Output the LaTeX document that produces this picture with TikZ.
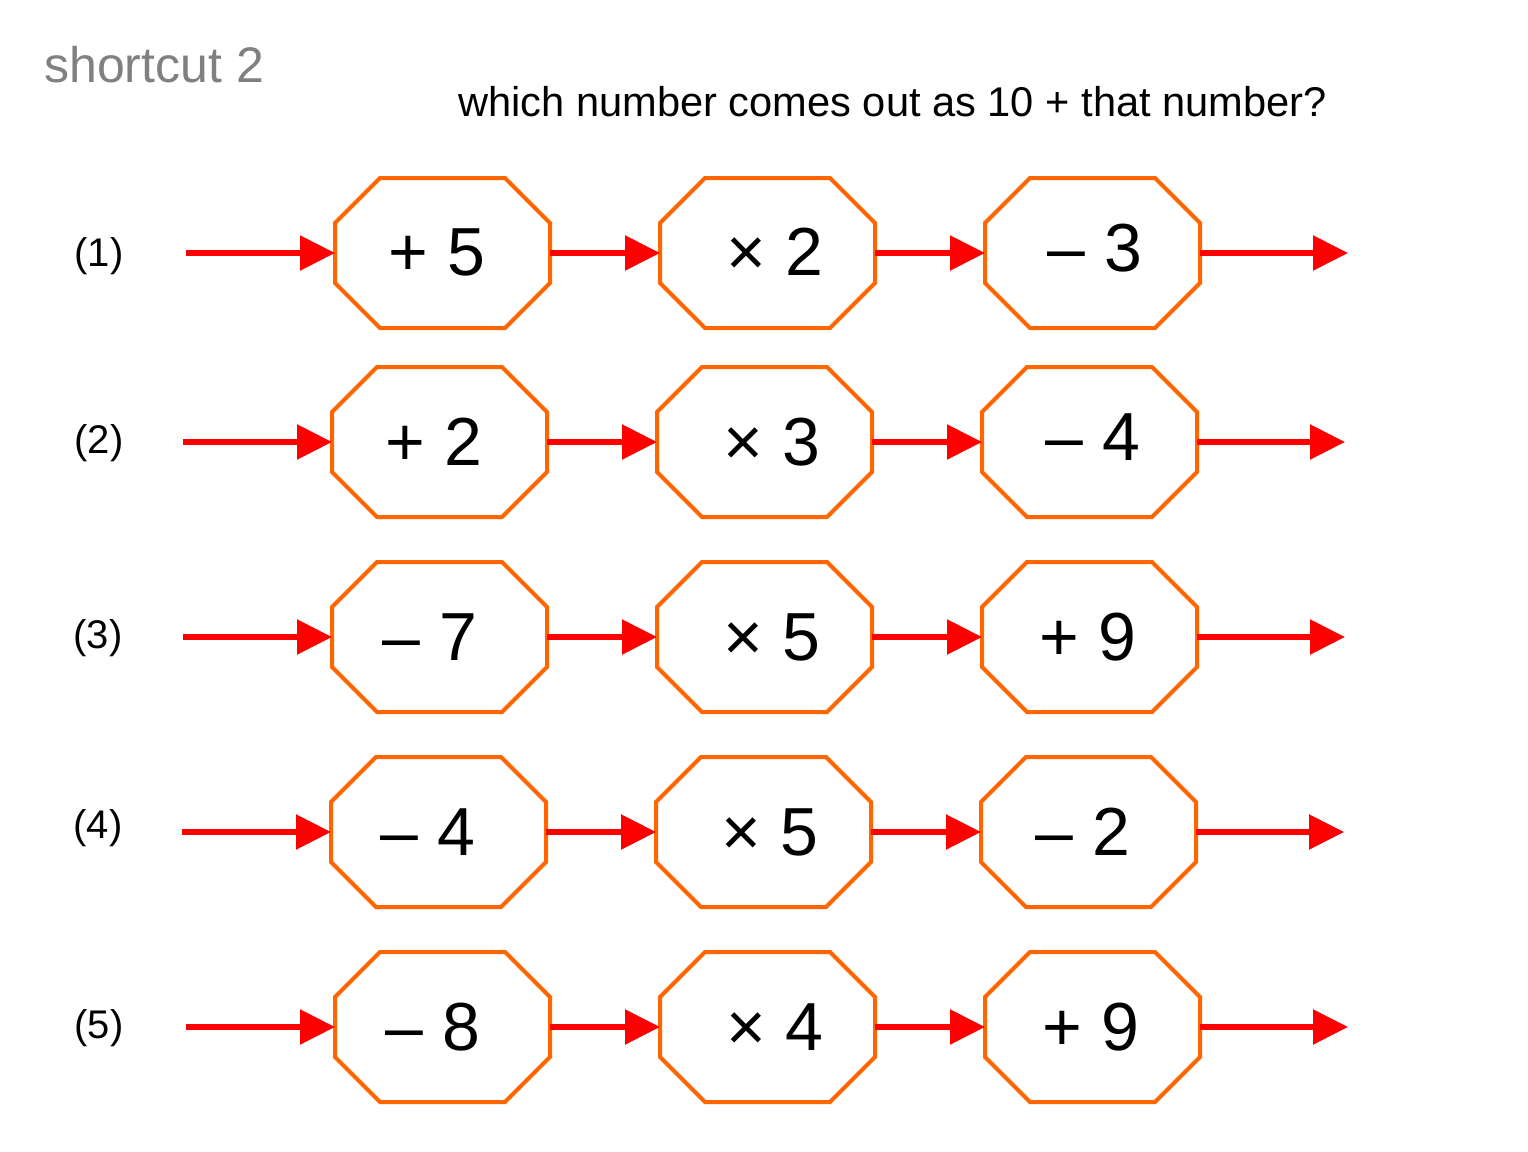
\documentclass[tikz,border=0pt]{standalone}
\usepackage{fontspec}
\setmainfont{Liberation Sans}
\usetikzlibrary{arrows.meta}
\definecolor{boxorange}{RGB}{255,102,0}
\definecolor{arrred}{RGB}{255,0,0}
\definecolor{titlegray}{RGB}{128,128,128}
\tikzset{
  oct/.style={rectangle, inner sep=0pt, outer sep=0pt, minimum width=107.5pt, minimum height=75pt},
  octline/.style={draw=boxorange, line width=2pt, line join=miter},
  optext/.style={font=\fontsize{34}{40}\selectfont, inner sep=0pt},
  rowlabel/.style={font=\fontsize{20}{24}\selectfont, inner sep=0pt},
  flow/.style={draw=arrred, line width=2.75pt, -{Triangle[length=17.5pt,width=17pt]}}
}
\begin{document}
\begin{tikzpicture}[x=0.5pt,y=-0.5pt]
\useasboundingbox (0,0) rectangle (1528,1152);
\node[font=\fontsize{25}{30}\selectfont, text=titlegray, anchor=west, inner sep=0pt] (hdr) at (44,65) {shortcut 2};
\node[font=\fontsize{20.8}{25}\selectfont, anchor=west, inner sep=0pt] (question) at (458,102) {which number comes out as 10 + that number?};

% row 1
\node[rowlabel] (l1) at (99,256) {(1)};
\coordinate (s1) at (186,253);
\node[oct] (b11) at (442.5,253) {};
\node[oct] (b12) at (767.5,253) {};
\node[oct] (b13) at (1092.5,253) {};
\coordinate (e1) at (1348,253);

% row 2
\node[rowlabel] (l2) at (99,443) {(2)};
\coordinate (s2) at (183,442);
\node[oct] (b21) at (439.5,442) {};
\node[oct] (b22) at (764.5,442) {};
\node[oct] (b23) at (1089.5,442) {};
\coordinate (e2) at (1345,442);

% row 3
\node[rowlabel] (l3) at (98,638) {(3)};
\coordinate (s3) at (183,637);
\node[oct] (b31) at (439.5,637) {};
\node[oct] (b32) at (764.5,637) {};
\node[oct] (b33) at (1089.5,637) {};
\coordinate (e3) at (1345,637);

% row 4
\node[rowlabel] (l4) at (98,828) {(4)};
\coordinate (s4) at (182,832);
\node[oct] (b41) at (438.5,832) {};
\node[oct] (b42) at (763.5,832) {};
\node[oct] (b43) at (1088.5,832) {};
\coordinate (e4) at (1344,832);

% row 5
\node[rowlabel] (l5) at (99,1028) {(5)};
\coordinate (s5) at (186,1027);
\node[oct] (b51) at (442.5,1027) {};
\node[oct] (b52) at (767.5,1027) {};
\node[oct] (b53) at (1092.5,1027) {};
\coordinate (e5) at (1348,1027);

% octagon outlines
\foreach \n in {b11,b12,b13,b21,b22,b23,b31,b32,b33,b41,b42,b43,b51,b52,b53}{
  \draw[octline]
    ([xshift=22.5pt]\n.north west) -- ([xshift=-22.5pt]\n.north east)
    -- ([yshift=-22.5pt]\n.north east) -- ([yshift=22.5pt]\n.south east)
    -- ([xshift=-22.5pt]\n.south east) -- ([xshift=22.5pt]\n.south west)
    -- ([yshift=22.5pt]\n.south west) -- ([yshift=-22.5pt]\n.north west) -- cycle;
}

% operation texts
\node[optext] (t11) at (437,252) {+ 5};
\node[optext] (t12) at (775,252) {× 2};
\node[optext] (t13) at (1095,248) {– 3};
\node[optext] (t21) at (434,442) {+ 2};
\node[optext] (t22) at (772,442) {× 3};
\node[optext] (t23) at (1093,437) {– 4};
\node[optext] (t31) at (430,637) {– 7};
\node[optext] (t32) at (772,637) {× 5};
\node[optext] (t33) at (1088,637) {+ 9};
\node[optext] (t41) at (428,832) {– 4};
\node[optext] (t42) at (770,832) {× 5};
\node[optext] (t43) at (1083,832) {– 2};
\node[optext] (t51) at (433,1027) {– 8};
\node[optext] (t52) at (775,1027) {× 4};
\node[optext] (t53) at (1091,1027) {+ 9};

% connectors
\foreach \r in {1,...,5}{
  \draw[flow] (s\r) -- (b\r1.west);
  \draw[flow] (b\r1.east) -- (b\r2.west);
  \draw[flow] (b\r2.east) -- (b\r3.west);
  \draw[flow] (b\r3.east) -- (e\r);
}
\end{tikzpicture}
\end{document}
